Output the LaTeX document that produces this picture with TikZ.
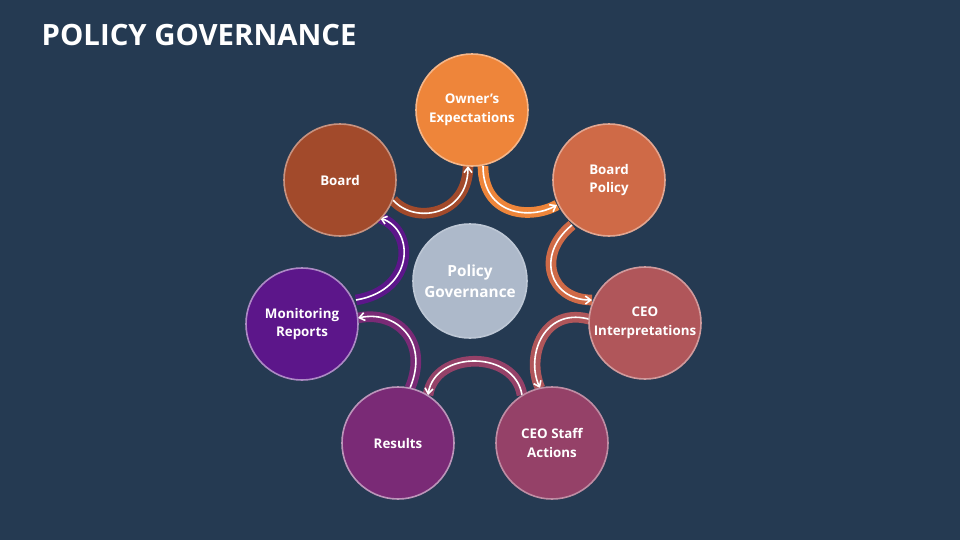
\documentclass[tikz,border=0pt]{standalone}
\usepackage{fontspec}
\setmainfont{Open Sans}
\usetikzlibrary{arrows.meta}
\definecolor{bg}{HTML}{253A52}
\definecolor{cBoard}{HTML}{A24A2B}
\definecolor{cOwner}{HTML}{EE853A}
\definecolor{cBP}{HTML}{CF6A47}
\definecolor{cCEO}{HTML}{B0565A}
\definecolor{cStaff}{HTML}{954168}
\definecolor{cRes}{HTML}{7A2A76}
\definecolor{cMon}{HTML}{5C168A}
\definecolor{cCenter}{HTML}{ADB9CA}
\begin{document}
\begin{tikzpicture}[x=0.75pt,y=-0.75pt,
  circ/.style={circle,minimum size=112*0.75pt,inner sep=0pt,line width=1.2pt,text=white,align=center,font=\bfseries\fontsize{10}{14}\selectfont},
  band/.style={line width=8pt},
  arr/.style={white,line width=1.2pt,-{Straight Barb[length=4pt,width=6pt]}}]
\fill[bg] (0,0) rectangle (960,540);
\useasboundingbox (0,0) rectangle (960,540);
\node[anchor=west,text=white,font=\bfseries\fontsize{22}{26}\selectfont] (title) at (37,35) {POLICY GOVERNANCE};
% bands
\draw[band,cBoard] (393,200) .. controls (415,225) and (468,215) .. (468,166);
\draw[band,cOwner] (483,166) .. controls (483,215) and (530,220) .. (557,205);
\draw[band,cBP] (572,225) .. controls (535,255) and (550,300) .. (592,300);
\draw[band,cCEO] (592,320) .. controls (545,305) and (525,355) .. (540,388);
\draw[band,cStaff] (522,395) .. controls (515,350) and (435,350) .. (428,395);
\draw[band,cRes] (410,388) .. controls (430,340) and (395,310) .. (358,318);
\draw[band,cMon] (356,300) .. controls (415,290) and (415,230) .. (380,218);
% arrows
\draw[arr] (393,200) .. controls (415,225) and (468,215) .. (468,166);
\draw[arr] (483,166) .. controls (483,215) and (530,220) .. (557,205);
\draw[arr] (572,225) .. controls (535,255) and (550,300) .. (592,300);
\draw[arr] (592,320) .. controls (545,305) and (525,355) .. (540,388);
\draw[arr] (522,395) .. controls (515,350) and (435,350) .. (428,395);
\draw[arr] (410,388) .. controls (430,340) and (395,310) .. (358,318);
\draw[arr] (356,300) .. controls (415,290) and (415,230) .. (380,218);
% circles
\node[circ,fill=cCenter,draw=cCenter!80!white,minimum size=114*0.75pt,font=\bfseries\fontsize{11.5}{16}\selectfont] (center) at (470,281) {Policy\\Governance};
\node[circ,fill=cOwner,draw=cOwner!60!white] (owner) at (472,110) {Owner’s\\Expectations};
\node[circ,fill=cBP,draw=cBP!60!white] (bp) at (609,180) {Board\\Policy};
\node[circ,fill=cCEO,draw=cCEO!60!white] (ceo) at (645,323) {CEO\\Interpretations};
\node[circ,fill=cStaff,draw=cStaff!60!white] (staff) at (552,443) {CEO Staff\\Actions};
\node[circ,fill=cRes,draw=cRes!50!white] (res) at (398,443) {Results};
\node[circ,fill=cMon,draw=cMon!50!white] (mon) at (302,324) {Monitoring\\Reports};
\node[circ,fill=cBoard,draw=cBoard!60!white] (board) at (340,180) {Board};
\end{tikzpicture}
\end{document}
